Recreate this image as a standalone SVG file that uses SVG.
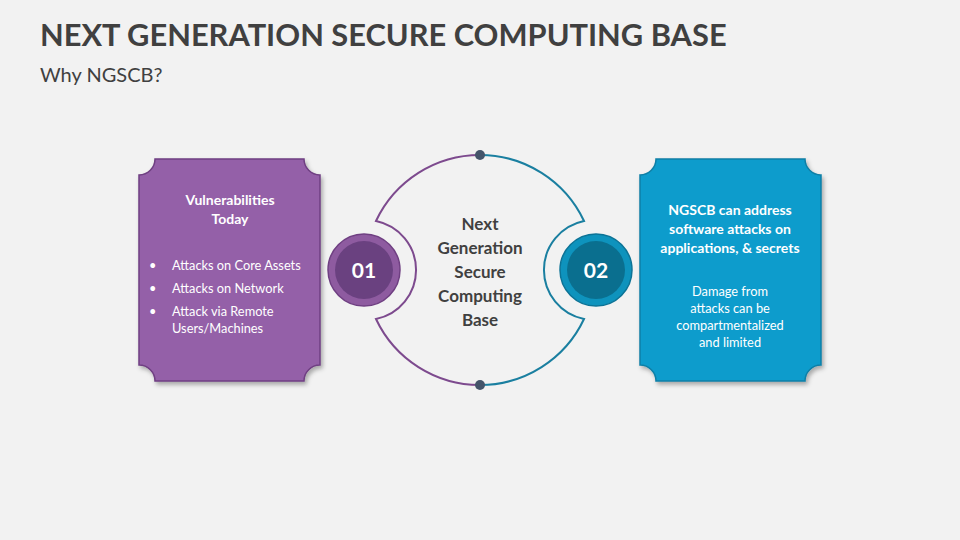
<svg xmlns="http://www.w3.org/2000/svg" width="960" height="540" viewBox="0 0 960 540">
<defs>
<filter id="sh" x="-10%" y="-10%" width="130%" height="130%"><feDropShadow dx="2" dy="3" stdDeviation="2" flood-color="#000" flood-opacity="0.3"/></filter>
</defs>
<style>
text{font-family:Lato,"Open Sans",sans-serif;fill:#fff}
.t{font-weight:bold}
.c{text-anchor:middle}
</style>
<rect width="960" height="540" fill="#f2f2f2"/>
<text x="40" y="46" style="font-size:30.8px;font-weight:bold;fill:#404040">NEXT GENERATION SECURE COMPUTING BASE</text>
<text x="40" y="82" style="font-size:20px;fill:#404040">Why NGSCB?</text>
<g id="connectors" fill="none" stroke-width="2">
<path d="M480,155 A115,115 0 0 0 376,221 A50,50 0 0 1 376,319 A115,115 0 0 0 480,385" stroke="#7d4a8e"/>
<path d="M480,155 A115,115 0 0 1 584,221 A50,50 0 0 0 584,319 A115,115 0 0 1 480,385" stroke="#1a7fa0"/>
<circle cx="480" cy="155" r="5" fill="#44546a" stroke="none"/>
<circle cx="480" cy="385" r="5" fill="#44546a" stroke="none"/>
</g>
<g id="center">
<text class="t c" style="font-size:17px;fill:#404040"><tspan x="480" y="230">Next</tspan><tspan x="480" y="254">Generation</tspan><tspan x="480" y="278">Secure</tspan><tspan x="480" y="302">Computing</tspan><tspan x="480" y="326">Base</tspan></text>
</g>
<g id="card1">
<path filter="url(#sh)" d="M155,159 H304 A16,16 0 0 0 320,175 V365 A16,16 0 0 0 304,381 H155 A16,16 0 0 0 139,365 V175 A16,16 0 0 0 155,159 Z" fill="#9460a8" stroke="#6f3f82" stroke-width="1.5"/>
<text class="t c" style="font-size:14px"><tspan x="230" y="205">Vulnerabilities</tspan><tspan x="230" y="224">Today</tspan></text>
<text style="font-size:12.8px"><tspan x="149" y="270">•</tspan><tspan x="172" y="270">Attacks on Core Assets</tspan><tspan x="149" y="293">•</tspan><tspan x="172" y="293">Attacks on Network</tspan><tspan x="149" y="316">•</tspan><tspan x="172" y="316">Attack via Remote</tspan><tspan x="172" y="333">Users/Machines</tspan></text>
</g>
<g id="badge1">
<circle cx="364" cy="270" r="36" fill="#8e5ba0" stroke="#6f3f82" stroke-width="1.5"/>
<circle cx="364" cy="270" r="29" fill="#6a4180"/>
<text class="t c" x="364" y="278" style="font-size:21px">01</text>
</g>
<g id="card2">
<path filter="url(#sh)" d="M656,159 H805 A16,16 0 0 0 821,175 V365 A16,16 0 0 0 805,381 H656 A16,16 0 0 0 640,365 V175 A16,16 0 0 0 656,159 Z" fill="#0a9ccc" stroke="#0c7fa6" stroke-width="1.5"/>
<text class="t c" style="font-size:14px"><tspan x="730" y="215">NGSCB can address</tspan><tspan x="730" y="234">software attacks on</tspan><tspan x="730" y="253">applications, &amp; secrets</tspan></text>
<text class="c" style="font-size:12.8px"><tspan x="730" y="296">Damage from</tspan><tspan x="730" y="313">attacks can be</tspan><tspan x="730" y="330">compartmentalized</tspan><tspan x="730" y="347">and limited</tspan></text>
</g>
<g id="badge2">
<circle cx="596" cy="270" r="36" fill="#0e93bd" stroke="#0c7396" stroke-width="1.5"/>
<circle cx="596" cy="270" r="29" fill="#0a6f8f"/>
<text class="t c" x="596" y="278" style="font-size:21px">02</text>
</g>
</svg>
